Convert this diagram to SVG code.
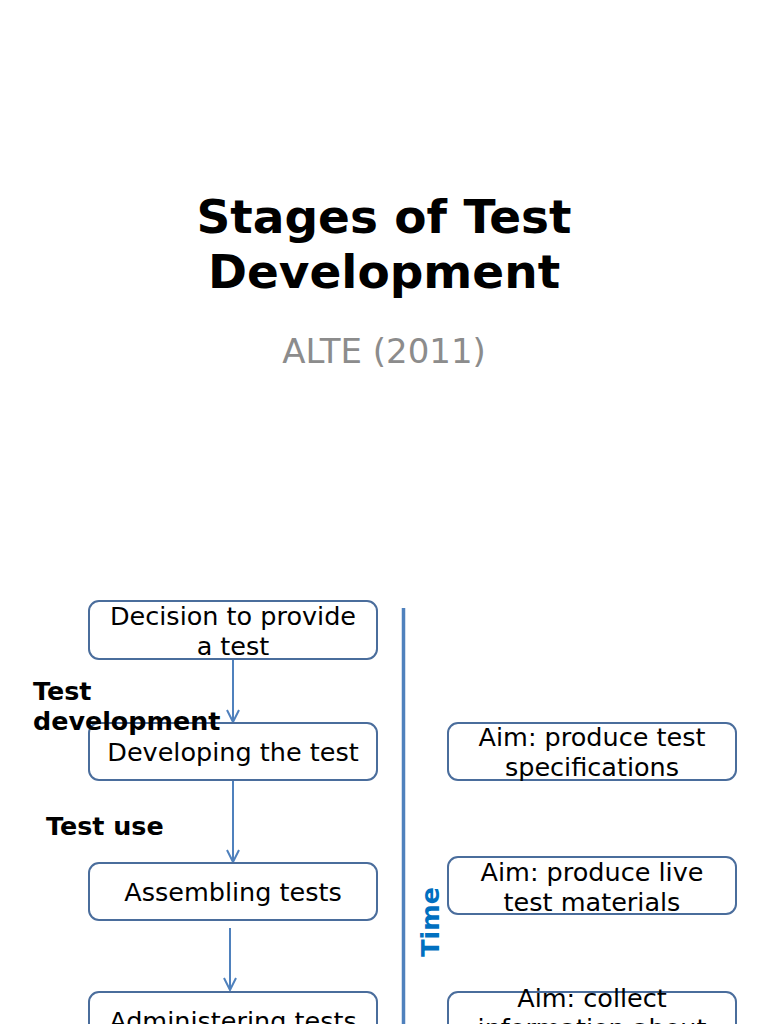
<svg xmlns="http://www.w3.org/2000/svg" width="768" height="1024" viewBox="0 0 768 1024">
<defs>
<style>
.box{fill:#fff;stroke:#4a6d9c;stroke-width:2}
.t{font-family:"DejaVu Sans",sans-serif;font-size:25.5px;fill:#000;text-anchor:middle}
.b{font-family:"DejaVu Sans",sans-serif;font-size:25.4px;font-weight:bold;fill:#000}
.c{stroke:#4f81bd;stroke-width:2;fill:none}
</style>
<marker id="ah" viewBox="0 0 14 14" refX="13" refY="7" markerWidth="14" markerHeight="14" markerUnits="userSpaceOnUse" orient="auto">
<path d="M1,1 L13,7 L1,13" fill="none" stroke="#4f81bd" stroke-width="2"/>
</marker>
</defs>
<rect width="768" height="1024" fill="#fff"/>
<g id="title">
<text x="384" y="233" font-family="DejaVu Sans, sans-serif" font-size="47" font-weight="bold" text-anchor="middle">Stages of Test</text>
<text x="384" y="288" font-family="DejaVu Sans, sans-serif" font-size="47" font-weight="bold" text-anchor="middle">Development</text>
<text x="384" y="363" font-family="DejaVu Sans, sans-serif" font-size="34" fill="#8c8c8c" text-anchor="middle">ALTE (2011)</text>
</g>
<g id="connectors">
<line class="c" x1="233" y1="659" x2="233" y2="722" marker-end="url(#ah)"/>
<line class="c" x1="233" y1="780" x2="233" y2="862" marker-end="url(#ah)"/>
<line class="c" x1="230" y1="928" x2="230" y2="990" stroke-width="3" marker-end="url(#ah)"/>
<line x1="403.5" y1="608" x2="403.5" y2="1024" stroke="#4f81bd" stroke-width="3.5"/>
</g>
<g id="n1"><rect class="box" x="89" y="601" width="288" height="58" rx="10"/>
<text class="t" x="233" y="625">Decision to provide</text><text class="t" x="233" y="655">a test</text></g>
<g id="n2"><rect class="box" x="89" y="723" width="288" height="57" rx="10"/>
<text class="t" x="233" y="761">Developing the test</text></g>
<g id="n3"><rect class="box" x="89" y="863" width="288" height="57" rx="10"/>
<text class="t" x="233" y="901">Assembling tests</text></g>
<g id="n4"><rect class="box" x="89" y="992" width="288" height="57" rx="10"/>
<text class="t" x="233" y="1030">Administering tests</text></g>
<g id="a1"><rect class="box" x="448" y="723" width="288" height="57" rx="10"/>
<text class="t" x="592" y="746">Aim: produce test</text><text class="t" x="592" y="776">specifications</text></g>
<g id="a2"><rect class="box" x="448" y="857" width="288" height="57" rx="10"/>
<text class="t" x="592" y="881">Aim: produce live</text><text class="t" x="592" y="911">test materials</text></g>
<g id="a3"><rect class="box" x="448" y="992" width="288" height="57" rx="10"/>
<text class="t" x="592" y="1007">Aim: collect</text><text class="t" x="592" y="1037">information about</text></g>
<g id="labels">
<text class="b" x="33" y="700">Test</text>
<text class="b" x="33" y="730">development</text>
<text class="b" x="46" y="835">Test use</text>
<text class="b" transform="translate(439,922) rotate(-90)" text-anchor="middle" style="fill:#0070c0">Time</text>
</g>
</svg>
